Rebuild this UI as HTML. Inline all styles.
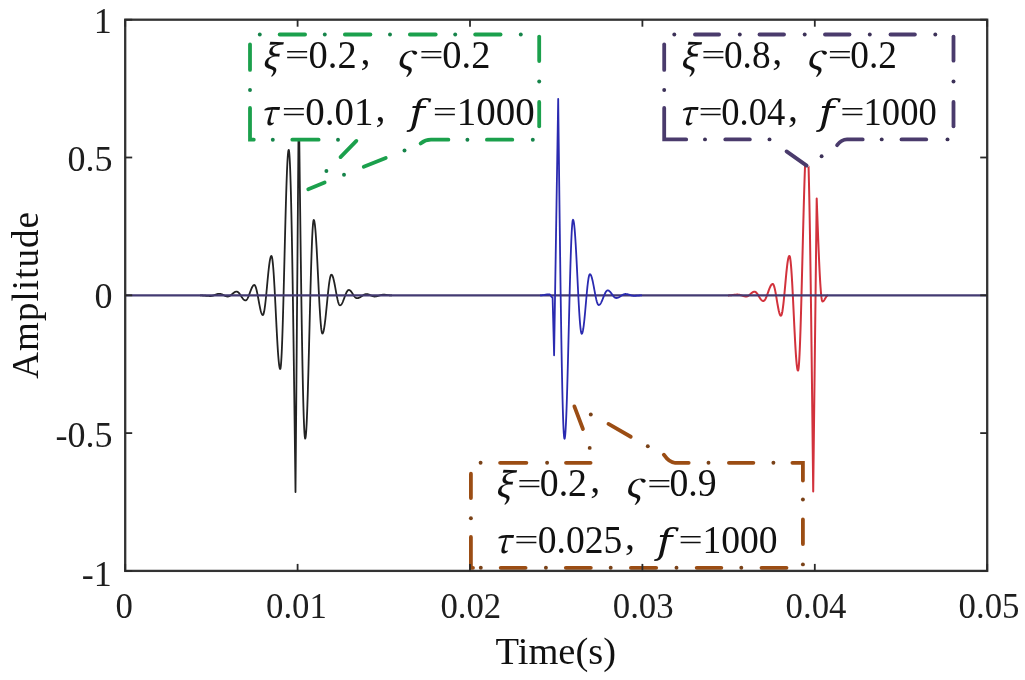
<!DOCTYPE html>
<html><head><meta charset="utf-8"><style>
html,body{margin:0;padding:0;background:#fff;width:1025px;height:680px;overflow:hidden}
svg{display:block}
</style></head><body>
<svg width="1025" height="680" viewBox="0 0 1025 680">
<rect width="1025" height="680" fill="#fff"/>
<g fill="none" stroke-linejoin="round">
<path d="M200.00,295.40 L200.25,295.40 L200.49,295.40 L200.74,295.41 L200.99,295.41 L201.23,295.42 L201.48,295.43 L201.73,295.44 L201.97,295.45 L202.22,295.46 L202.47,295.48 L202.71,295.49 L202.96,295.51 L203.20,295.53 L203.45,295.54 L203.70,295.56 L203.94,295.58 L204.19,295.60 L204.44,295.62 L204.68,295.65 L204.93,295.67 L205.18,295.69 L205.42,295.71 L205.67,295.73 L205.92,295.75 L206.16,295.78 L206.41,295.80 L206.66,295.82 L206.90,295.84 L207.15,295.86 L207.40,295.87 L207.64,295.89 L207.89,295.91 L208.13,295.92 L208.38,295.94 L208.63,295.95 L208.87,295.96 L209.12,295.97 L209.37,295.98 L209.61,295.99 L209.86,295.99 L210.11,296.00 L210.35,296.00 L210.60,296.00 L210.84,296.00 L211.09,295.98 L211.33,295.96 L211.58,295.93 L211.82,295.90 L212.07,295.85 L212.31,295.80 L212.56,295.74 L212.80,295.68 L213.04,295.61 L213.29,295.53 L213.53,295.45 L213.78,295.36 L214.02,295.28 L214.27,295.18 L214.51,295.09 L214.76,295.00 L215.00,294.90 L215.24,294.80 L215.49,294.71 L215.73,294.62 L215.98,294.52 L216.22,294.44 L216.47,294.35 L216.71,294.27 L216.96,294.19 L217.20,294.12 L217.44,294.06 L217.69,294.00 L217.93,293.95 L218.18,293.90 L218.42,293.87 L218.67,293.84 L218.91,293.82 L219.16,293.80 L219.40,293.80 L219.65,293.81 L219.89,293.82 L220.14,293.85 L220.39,293.89 L220.64,293.94 L220.88,294.00 L221.13,294.07 L221.38,294.15 L221.62,294.24 L221.87,294.34 L222.12,294.44 L222.36,294.55 L222.61,294.66 L222.86,294.78 L223.11,294.90 L223.35,295.03 L223.60,295.15 L223.85,295.27 L224.09,295.40 L224.34,295.52 L224.59,295.64 L224.84,295.75 L225.08,295.86 L225.33,295.96 L225.58,296.06 L225.82,296.15 L226.07,296.23 L226.32,296.30 L226.56,296.36 L226.81,296.41 L227.06,296.45 L227.31,296.48 L227.55,296.49 L227.80,296.50 L228.04,296.49 L228.29,296.46 L228.53,296.42 L228.78,296.35 L229.02,296.27 L229.27,296.17 L229.51,296.06 L229.76,295.93 L230.00,295.78 L230.24,295.62 L230.49,295.46 L230.73,295.28 L230.98,295.09 L231.22,294.89 L231.47,294.68 L231.71,294.48 L231.96,294.26 L232.20,294.05 L232.44,293.84 L232.69,293.62 L232.93,293.42 L233.18,293.21 L233.42,293.01 L233.67,292.83 L233.91,292.64 L234.16,292.48 L234.40,292.32 L234.64,292.17 L234.89,292.04 L235.13,291.93 L235.38,291.83 L235.62,291.75 L235.87,291.68 L236.11,291.64 L236.36,291.61 L236.60,291.60 L236.85,291.62 L237.09,291.67 L237.34,291.75 L237.59,291.87 L237.84,292.01 L238.08,292.19 L238.33,292.40 L238.58,292.63 L238.82,292.89 L239.07,293.17 L239.32,293.48 L239.57,293.80 L239.81,294.14 L240.06,294.50 L240.31,294.86 L240.56,295.24 L240.80,295.62 L241.05,296.00 L241.30,296.38 L241.54,296.76 L241.79,297.14 L242.04,297.50 L242.29,297.86 L242.53,298.20 L242.78,298.52 L243.03,298.83 L243.28,299.11 L243.52,299.37 L243.77,299.60 L244.02,299.81 L244.26,299.99 L244.51,300.13 L244.76,300.25 L245.01,300.33 L245.25,300.38 L245.50,300.40 L245.74,300.37 L245.99,300.28 L246.23,300.14 L246.48,299.94 L246.72,299.68 L246.97,299.37 L247.21,299.01 L247.46,298.60 L247.70,298.14 L247.94,297.65 L248.19,297.12 L248.43,296.55 L248.68,295.95 L248.92,295.33 L249.17,294.69 L249.41,294.04 L249.66,293.37 L249.90,292.70 L250.14,292.03 L250.39,291.36 L250.63,290.71 L250.88,290.07 L251.12,289.45 L251.37,288.85 L251.61,288.28 L251.86,287.75 L252.10,287.26 L252.34,286.80 L252.59,286.39 L252.83,286.03 L253.08,285.72 L253.32,285.46 L253.57,285.26 L253.81,285.12 L254.06,285.03 L254.30,285.00 L254.55,285.06 L254.80,285.26 L255.05,285.57 L255.30,286.01 L255.55,286.57 L255.80,287.25 L256.05,288.03 L256.30,288.91 L256.55,289.89 L256.80,290.96 L257.05,292.10 L257.30,293.31 L257.55,294.58 L257.80,295.90 L258.05,297.24 L258.30,298.62 L258.55,300.00 L258.80,301.38 L259.05,302.76 L259.30,304.10 L259.55,305.42 L259.80,306.69 L260.05,307.90 L260.30,309.04 L260.55,310.11 L260.80,311.09 L261.05,311.97 L261.30,312.75 L261.55,313.43 L261.80,313.99 L262.05,314.43 L262.30,314.74 L262.55,314.94 L262.80,315.00 L263.05,314.88 L263.29,314.53 L263.54,313.94 L263.78,313.12 L264.03,312.08 L264.27,310.82 L264.52,309.37 L264.77,307.72 L265.01,305.89 L265.26,303.89 L265.50,301.75 L265.75,299.48 L265.99,297.09 L266.24,294.62 L266.49,292.06 L266.73,289.46 L266.98,286.82 L267.22,284.18 L267.47,281.54 L267.71,278.94 L267.96,276.38 L268.21,273.91 L268.45,271.52 L268.70,269.25 L268.94,267.11 L269.19,265.11 L269.43,263.28 L269.68,261.63 L269.93,260.18 L270.17,258.92 L270.42,257.88 L270.66,257.06 L270.91,256.47 L271.15,256.12 L271.40,256.00 L271.64,256.21 L271.89,256.86 L272.13,257.93 L272.38,259.41 L272.62,261.29 L272.87,263.57 L273.11,266.22 L273.36,269.22 L273.60,272.55 L273.84,276.18 L274.09,280.09 L274.33,284.25 L274.58,288.62 L274.82,293.18 L275.07,297.88 L275.31,302.69 L275.56,307.58 L275.80,312.50 L276.04,317.42 L276.29,322.31 L276.53,327.12 L276.78,331.82 L277.02,336.38 L277.27,340.75 L277.51,344.91 L277.76,348.82 L278.00,352.45 L278.24,355.78 L278.49,358.78 L278.73,361.43 L278.98,363.71 L279.22,365.59 L279.47,367.07 L279.71,368.14 L279.96,368.79 L280.20,369.00 L280.45,368.53 L280.70,367.13 L280.95,364.82 L281.20,361.60 L281.45,357.52 L281.70,352.59 L281.95,346.87 L282.20,340.41 L282.45,333.25 L282.70,325.47 L282.95,317.12 L283.20,308.28 L283.45,299.02 L283.70,289.43 L283.95,279.58 L284.20,269.56 L284.45,259.45 L284.70,249.34 L284.95,239.32 L285.20,229.47 L285.45,219.88 L285.70,210.62 L285.95,201.78 L286.20,193.43 L286.45,185.65 L286.70,178.49 L286.95,172.03 L287.20,166.31 L287.45,161.38 L287.70,157.30 L287.95,154.08 L288.20,151.77 L288.45,150.37 L288.70,149.90 L288.94,150.44 L289.19,152.05 L289.43,154.73 L289.67,158.48 L289.91,163.27 L290.16,169.10 L290.40,175.94 L290.64,183.78 L290.89,192.59 L291.13,202.34 L291.37,213.00 L291.61,224.54 L291.86,236.92 L292.10,250.10 L292.34,264.04 L292.59,278.70 L292.83,294.04 L293.07,309.99 L293.31,326.52 L293.56,343.57 L293.80,361.08 L294.04,379.01 L294.29,397.29 L294.53,415.88 L294.77,434.70 L295.01,453.70 L295.26,472.82 L295.50,492.00 L295.74,463.93 L295.97,435.86 L296.21,407.79 L296.44,379.71 L296.68,351.64 L296.91,323.57 L297.15,295.50 L297.39,267.43 L297.62,239.36 L297.86,211.29 L298.09,183.21 L298.33,155.14 L298.56,127.07 L298.80,99.00 L299.05,119.50 L299.29,139.93 L299.54,160.21 L299.78,180.27 L300.03,200.03 L300.28,219.42 L300.52,238.38 L300.77,256.82 L301.02,274.69 L301.26,291.91 L301.51,308.44 L301.75,324.20 L302.00,339.13 L302.25,353.19 L302.49,366.33 L302.74,378.49 L302.98,389.62 L303.23,399.70 L303.48,408.68 L303.72,416.53 L303.97,423.22 L304.22,428.73 L304.46,433.04 L304.71,436.12 L304.95,437.98 L305.20,438.60 L305.44,438.16 L305.69,436.84 L305.93,434.66 L306.18,431.63 L306.42,427.78 L306.67,423.13 L306.91,417.73 L307.15,411.61 L307.40,404.83 L307.64,397.45 L307.89,389.51 L308.13,381.09 L308.38,372.26 L308.62,363.08 L308.86,353.62 L309.11,343.97 L309.35,334.20 L309.60,324.40 L309.84,314.63 L310.09,304.98 L310.33,295.52 L310.57,286.34 L310.82,277.51 L311.06,269.09 L311.31,261.15 L311.55,253.77 L311.80,246.99 L312.04,240.87 L312.28,235.47 L312.53,230.82 L312.77,226.97 L313.02,223.94 L313.26,221.76 L313.51,220.44 L313.75,220.00 L314.00,220.23 L314.24,220.91 L314.49,222.05 L314.74,223.62 L314.99,225.62 L315.23,228.03 L315.48,230.84 L315.73,234.01 L315.97,237.53 L316.22,241.37 L316.47,245.49 L316.72,249.86 L316.96,254.45 L317.21,259.21 L317.46,264.12 L317.70,269.13 L317.95,274.20 L318.20,279.30 L318.45,284.37 L318.69,289.38 L318.94,294.29 L319.19,299.05 L319.43,303.64 L319.68,308.01 L319.93,312.13 L320.18,315.97 L320.42,319.49 L320.67,322.66 L320.92,325.47 L321.16,327.88 L321.41,329.88 L321.66,331.45 L321.91,332.59 L322.15,333.27 L322.40,333.50 L322.65,333.39 L322.90,333.05 L323.15,332.50 L323.40,331.73 L323.65,330.75 L323.90,329.56 L324.15,328.18 L324.40,326.62 L324.65,324.89 L324.90,323.00 L325.15,320.96 L325.40,318.80 L325.65,316.52 L325.90,314.16 L326.15,311.71 L326.40,309.21 L326.65,306.66 L326.90,304.10 L327.15,301.54 L327.40,298.99 L327.65,296.49 L327.90,294.04 L328.15,291.68 L328.40,289.40 L328.65,287.24 L328.90,285.20 L329.15,283.31 L329.40,281.58 L329.65,280.02 L329.90,278.64 L330.15,277.45 L330.40,276.47 L330.65,275.70 L330.90,275.15 L331.15,274.81 L331.40,274.70 L331.65,274.76 L331.89,274.95 L332.14,275.25 L332.38,275.68 L332.63,276.22 L332.87,276.87 L333.12,277.62 L333.37,278.48 L333.61,279.43 L333.86,280.46 L334.10,281.57 L334.35,282.75 L334.59,283.99 L334.84,285.27 L335.09,286.60 L335.33,287.95 L335.58,289.31 L335.82,290.69 L336.07,292.05 L336.31,293.40 L336.56,294.73 L336.81,296.01 L337.05,297.25 L337.30,298.43 L337.54,299.54 L337.79,300.57 L338.03,301.52 L338.28,302.38 L338.53,303.13 L338.77,303.78 L339.02,304.32 L339.26,304.75 L339.51,305.05 L339.75,305.24 L340.00,305.30 L340.24,305.27 L340.49,305.18 L340.73,305.04 L340.98,304.84 L341.22,304.58 L341.47,304.28 L341.71,303.92 L341.96,303.51 L342.20,303.06 L342.44,302.57 L342.69,302.04 L342.93,301.48 L343.18,300.88 L343.42,300.27 L343.67,299.63 L343.91,298.98 L344.16,298.32 L344.40,297.65 L344.64,296.98 L344.89,296.32 L345.13,295.67 L345.38,295.03 L345.62,294.42 L345.87,293.82 L346.11,293.26 L346.36,292.73 L346.60,292.24 L346.84,291.79 L347.09,291.38 L347.33,291.02 L347.58,290.72 L347.82,290.46 L348.07,290.26 L348.31,290.12 L348.56,290.03 L348.80,290.00 L349.05,290.02 L349.30,290.07 L349.55,290.17 L349.79,290.29 L350.04,290.46 L350.29,290.65 L350.54,290.88 L350.79,291.13 L351.04,291.42 L351.28,291.72 L351.53,292.05 L351.78,292.40 L352.03,292.76 L352.28,293.13 L352.53,293.52 L352.78,293.90 L353.02,294.30 L353.27,294.68 L353.52,295.07 L353.77,295.44 L354.02,295.80 L354.27,296.15 L354.52,296.48 L354.76,296.78 L355.01,297.07 L355.26,297.32 L355.51,297.55 L355.76,297.74 L356.01,297.91 L356.25,298.03 L356.50,298.13 L356.75,298.18 L357.00,298.20 L357.25,298.19 L357.50,298.17 L357.75,298.14 L358.00,298.09 L358.25,298.03 L358.50,297.95 L358.75,297.87 L359.00,297.77 L359.25,297.66 L359.50,297.54 L359.75,297.41 L360.00,297.27 L360.25,297.13 L360.50,296.97 L360.75,296.82 L361.00,296.65 L361.25,296.49 L361.50,296.32 L361.75,296.15 L362.00,295.98 L362.25,295.81 L362.50,295.65 L362.75,295.48 L363.00,295.33 L363.25,295.17 L363.50,295.03 L363.75,294.89 L364.00,294.76 L364.25,294.64 L364.50,294.53 L364.75,294.43 L365.00,294.35 L365.25,294.27 L365.50,294.21 L365.75,294.16 L366.00,294.13 L366.25,294.11 L366.50,294.10 L366.75,294.11 L367.00,294.12 L367.25,294.15 L367.49,294.19 L367.74,294.23 L367.99,294.29 L368.24,294.36 L368.49,294.43 L368.74,294.51 L368.98,294.60 L369.23,294.70 L369.48,294.80 L369.73,294.91 L369.98,295.02 L370.23,295.13 L370.48,295.24 L370.72,295.36 L370.97,295.47 L371.22,295.58 L371.47,295.69 L371.72,295.80 L371.97,295.90 L372.22,296.00 L372.46,296.09 L372.71,296.17 L372.96,296.24 L373.21,296.31 L373.46,296.37 L373.71,296.41 L373.95,296.45 L374.20,296.48 L374.45,296.49 L374.70,296.50 L374.94,296.50 L375.19,296.49 L375.43,296.47 L375.68,296.45 L375.92,296.42 L376.17,296.38 L376.41,296.34 L376.66,296.29 L376.90,296.24 L377.14,296.18 L377.39,296.12 L377.63,296.05 L377.88,295.98 L378.12,295.91 L378.37,295.83 L378.61,295.76 L378.86,295.68 L379.10,295.60 L379.34,295.52 L379.59,295.44 L379.83,295.37 L380.08,295.29 L380.32,295.22 L380.57,295.15 L380.81,295.08 L381.06,295.02 L381.30,294.96 L381.54,294.91 L381.79,294.86 L382.03,294.82 L382.28,294.78 L382.52,294.75 L382.77,294.73 L383.01,294.71 L383.26,294.70 L383.50,294.70 L383.75,294.70 L384.00,294.71 L384.25,294.71 L384.50,294.72 L384.75,294.74 L385.00,294.75 L385.25,294.77 L385.50,294.79 L385.75,294.81 L386.00,294.84 L386.25,294.87 L386.50,294.89 L386.75,294.92 L387.00,294.95 L387.25,294.99 L387.50,295.02 L387.75,295.05 L388.00,295.08 L388.25,295.11 L388.50,295.15 L388.75,295.18 L389.00,295.21 L389.25,295.23 L389.50,295.26 L389.75,295.29 L390.00,295.31 L390.25,295.33 L390.50,295.35 L390.75,295.36 L391.00,295.38 L391.25,295.39 L391.50,295.39 L391.75,295.40 L392.00,295.40" stroke="#222" stroke-width="1.8"/>
<path d="M728.00,295.40 L728.25,295.40 L728.49,295.39 L728.74,295.39 L728.98,295.38 L729.23,295.37 L729.48,295.35 L729.72,295.34 L729.97,295.32 L730.22,295.30 L730.46,295.28 L730.71,295.25 L730.95,295.23 L731.20,295.20 L731.45,295.17 L731.69,295.14 L731.94,295.11 L732.18,295.08 L732.43,295.05 L732.68,295.02 L732.92,294.98 L733.17,294.95 L733.42,294.92 L733.66,294.89 L733.91,294.86 L734.15,294.83 L734.40,294.80 L734.65,294.77 L734.89,294.75 L735.14,294.72 L735.38,294.70 L735.63,294.68 L735.88,294.66 L736.12,294.65 L736.37,294.63 L736.62,294.62 L736.86,294.61 L737.11,294.61 L737.35,294.60 L737.60,294.60 L737.85,294.60 L738.10,294.62 L738.35,294.63 L738.59,294.66 L738.84,294.69 L739.09,294.73 L739.34,294.78 L739.59,294.83 L739.84,294.89 L740.09,294.96 L740.33,295.03 L740.58,295.10 L740.83,295.18 L741.08,295.26 L741.33,295.34 L741.58,295.42 L741.83,295.51 L742.07,295.59 L742.32,295.68 L742.57,295.76 L742.82,295.84 L743.07,295.92 L743.32,296.00 L743.57,296.07 L743.81,296.14 L744.06,296.21 L744.31,296.27 L744.56,296.32 L744.81,296.37 L745.06,296.41 L745.31,296.44 L745.55,296.47 L745.80,296.48 L746.05,296.50 L746.30,296.50 L746.55,296.49 L746.80,296.46 L747.05,296.40 L747.29,296.33 L747.54,296.23 L747.79,296.12 L748.04,295.99 L748.29,295.84 L748.54,295.67 L748.78,295.49 L749.03,295.30 L749.28,295.10 L749.53,294.88 L749.78,294.67 L750.03,294.44 L750.28,294.21 L750.52,293.99 L750.77,293.76 L751.02,293.53 L751.27,293.32 L751.52,293.10 L751.77,292.90 L752.02,292.71 L752.26,292.53 L752.51,292.36 L752.76,292.21 L753.01,292.08 L753.26,291.97 L753.51,291.87 L753.75,291.80 L754.00,291.74 L754.25,291.71 L754.50,291.70 L754.74,291.72 L754.99,291.77 L755.23,291.86 L755.48,291.98 L755.72,292.14 L755.97,292.32 L756.21,292.54 L756.46,292.79 L756.70,293.06 L756.94,293.36 L757.19,293.68 L757.43,294.02 L757.68,294.38 L757.92,294.76 L758.17,295.15 L758.41,295.54 L758.66,295.94 L758.90,296.35 L759.14,296.76 L759.39,297.16 L759.63,297.55 L759.88,297.94 L760.12,298.32 L760.37,298.68 L760.61,299.02 L760.86,299.34 L761.10,299.64 L761.34,299.91 L761.59,300.16 L761.83,300.38 L762.08,300.56 L762.32,300.72 L762.57,300.84 L762.81,300.93 L763.06,300.98 L763.30,301.00 L763.55,300.97 L763.79,300.88 L764.04,300.74 L764.29,300.54 L764.54,300.28 L764.78,299.98 L765.03,299.62 L765.28,299.21 L765.53,298.75 L765.77,298.26 L766.02,297.72 L766.27,297.15 L766.52,296.55 L766.76,295.91 L767.01,295.26 L767.26,294.59 L767.51,293.90 L767.75,293.20 L768.00,292.50 L768.25,291.80 L768.49,291.10 L768.74,290.41 L768.99,289.74 L769.24,289.09 L769.48,288.45 L769.73,287.85 L769.98,287.28 L770.23,286.74 L770.47,286.25 L770.72,285.79 L770.97,285.38 L771.22,285.02 L771.46,284.72 L771.71,284.46 L771.96,284.26 L772.21,284.12 L772.45,284.03 L772.70,284.00 L772.95,284.07 L773.20,284.29 L773.45,284.64 L773.69,285.14 L773.94,285.76 L774.19,286.52 L774.44,287.39 L774.69,288.38 L774.94,289.47 L775.18,290.66 L775.43,291.93 L775.68,293.27 L775.93,294.67 L776.18,296.11 L776.43,297.59 L776.68,299.10 L776.92,300.60 L777.17,302.11 L777.42,303.59 L777.67,305.03 L777.92,306.43 L778.17,307.77 L778.42,309.04 L778.66,310.23 L778.91,311.32 L779.16,312.31 L779.41,313.18 L779.66,313.94 L779.91,314.56 L780.15,315.06 L780.40,315.41 L780.65,315.63 L780.90,315.70 L781.15,315.57 L781.40,315.19 L781.65,314.56 L781.90,313.68 L782.15,312.57 L782.40,311.22 L782.65,309.66 L782.90,307.90 L783.15,305.94 L783.40,303.82 L783.65,301.54 L783.90,299.13 L784.15,296.60 L784.40,293.98 L784.65,291.29 L784.90,288.56 L785.15,285.80 L785.40,283.04 L785.65,280.31 L785.90,277.62 L786.15,275.00 L786.40,272.47 L786.65,270.06 L786.90,267.78 L787.15,265.66 L787.40,263.70 L787.65,261.94 L787.90,260.38 L788.15,259.03 L788.40,257.92 L788.65,257.04 L788.90,256.41 L789.15,256.03 L789.40,255.90 L789.65,256.13 L789.89,256.82 L790.14,257.97 L790.38,259.56 L790.63,261.58 L790.87,264.02 L791.12,266.85 L791.37,270.06 L791.61,273.62 L791.86,277.49 L792.10,281.66 L792.35,286.07 L792.59,290.71 L792.84,295.53 L793.09,300.49 L793.33,305.55 L793.58,310.68 L793.82,315.82 L794.07,320.95 L794.31,326.01 L794.56,330.97 L794.81,335.79 L795.05,340.43 L795.30,344.84 L795.54,349.01 L795.79,352.88 L796.03,356.44 L796.28,359.65 L796.53,362.48 L796.77,364.92 L797.02,366.94 L797.26,368.53 L797.51,369.68 L797.75,370.37 L798.00,370.60 L798.25,370.16 L798.50,368.85 L798.75,366.67 L799.00,363.65 L799.25,359.80 L799.50,355.15 L799.75,349.75 L800.00,343.62 L800.25,336.83 L800.50,329.41 L800.75,321.43 L801.00,312.95 L801.25,304.03 L801.50,294.73 L801.75,285.14 L802.00,275.32 L802.25,265.35 L802.50,255.30 L802.75,245.25 L803.00,235.28 L803.25,225.46 L803.50,215.87 L803.75,206.57 L804.00,197.65 L804.25,189.17 L804.50,181.19 L804.75,173.77 L805.00,166.98 L805.25,160.85 L805.50,155.45 L805.75,150.80 L806.00,146.95 L806.25,143.93 L806.50,141.75 L806.75,140.44 L807.00,140.00 L807.25,140.69 L807.50,142.77 L807.74,146.23 L807.99,151.04 L808.24,157.20 L808.49,164.68 L808.74,173.45 L808.98,183.48 L809.23,194.72 L809.48,207.13 L809.73,220.66 L809.98,235.27 L810.22,250.88 L810.47,267.45 L810.72,284.89 L810.97,303.16 L811.22,322.16 L811.46,341.84 L811.71,362.10 L811.96,382.88 L812.21,404.09 L812.46,425.64 L812.70,447.45 L812.95,469.43 L813.20,491.50 L813.45,470.58 L813.70,449.66 L813.95,428.74 L814.20,407.81 L814.45,386.89 L814.70,365.97 L814.95,345.05 L815.20,324.13 L815.45,303.21 L815.70,282.29 L815.95,261.36 L816.20,240.44 L816.45,219.52 L816.70,198.60 L816.94,205.32 L817.18,212.02 L817.43,218.66 L817.67,225.21 L817.91,231.64 L818.15,237.94 L818.39,244.07 L818.63,250.00 L818.88,255.71 L819.12,261.18 L819.36,266.38 L819.60,271.29 L819.84,275.89 L820.08,280.16 L820.33,284.08 L820.57,287.63 L820.81,290.80 L821.05,293.57 L821.29,295.94 L821.53,297.90 L821.77,299.42 L822.02,300.52 L822.26,301.18 L822.50,301.40 L822.75,301.37 L823.00,301.28 L823.25,301.13 L823.50,300.92 L823.75,300.67 L824.00,300.36 L824.25,300.02 L824.50,299.65 L824.75,299.25 L825.00,298.83 L825.25,298.40 L825.50,297.97 L825.75,297.55 L826.00,297.15 L826.25,296.78 L826.50,296.44 L826.75,296.13 L827.00,295.88 L827.25,295.67 L827.50,295.52 L827.75,295.43 L828.00,295.40" stroke="#d2323c" stroke-width="2"/>
<path d="M125.2,295.4 H987.2" stroke="#433a72" stroke-width="2.2"/>
<path d="M540.00,295.40 L540.24,295.40 L540.49,295.39 L540.73,295.38 L540.98,295.37 L541.22,295.35 L541.47,295.33 L541.71,295.31 L541.96,295.28 L542.20,295.25 L542.45,295.22 L542.69,295.19 L542.94,295.15 L543.18,295.11 L543.43,295.07 L543.67,295.03 L543.92,294.99 L544.16,294.94 L544.41,294.90 L544.65,294.85 L544.89,294.80 L545.14,294.76 L545.38,294.71 L545.63,294.67 L545.87,294.63 L546.12,294.59 L546.36,294.55 L546.61,294.51 L546.85,294.48 L547.10,294.45 L547.34,294.42 L547.59,294.39 L547.83,294.37 L548.08,294.35 L548.32,294.33 L548.57,294.32 L548.81,294.31 L549.06,294.30 L549.30,294.30 L549.54,294.34 L549.77,294.46 L550.01,294.65 L550.24,294.90 L550.48,295.21 L550.71,295.54 L550.95,295.90 L551.19,296.26 L551.42,296.59 L551.66,296.90 L551.89,297.15 L552.13,297.34 L552.36,297.46 L552.60,297.50 L552.85,307.13 L553.10,316.77 L553.35,326.40 L553.60,336.03 L553.85,345.67 L554.10,355.30 L554.34,340.21 L554.58,325.12 L554.82,310.04 L555.06,294.95 L555.31,279.86 L555.55,264.77 L555.79,249.68 L556.03,234.59 L556.27,219.51 L556.51,204.42 L556.75,189.33 L556.99,174.24 L557.24,159.15 L557.48,144.06 L557.72,128.98 L557.96,113.89 L558.20,98.80 L558.44,119.33 L558.68,139.78 L558.93,160.08 L559.17,180.16 L559.41,199.94 L559.65,219.35 L559.90,238.32 L560.14,256.78 L560.38,274.67 L560.62,291.91 L560.87,308.45 L561.11,324.23 L561.35,339.18 L561.59,353.26 L561.83,366.40 L562.08,378.57 L562.32,389.72 L562.56,399.81 L562.80,408.80 L563.05,416.66 L563.29,423.36 L563.53,428.87 L563.77,433.18 L564.02,436.27 L564.26,438.13 L564.50,438.75 L564.75,438.28 L565.00,436.89 L565.25,434.57 L565.50,431.36 L565.75,427.27 L566.00,422.35 L566.25,416.64 L566.50,410.18 L566.75,403.03 L567.00,395.25 L567.25,386.91 L567.50,378.07 L567.75,368.82 L568.00,359.23 L568.25,349.39 L568.50,339.38 L568.75,329.28 L569.00,319.17 L569.25,309.16 L569.50,299.32 L569.75,289.73 L570.00,280.48 L570.25,271.64 L570.50,263.30 L570.75,255.52 L571.00,248.37 L571.25,241.91 L571.50,236.20 L571.75,231.28 L572.00,227.19 L572.25,223.98 L572.50,221.66 L572.75,220.27 L573.00,219.80 L573.25,220.03 L573.50,220.72 L573.75,221.85 L574.00,223.43 L574.25,225.44 L574.50,227.86 L574.75,230.68 L575.00,233.87 L575.25,237.40 L575.50,241.25 L575.75,245.39 L576.00,249.78 L576.25,254.38 L576.50,259.17 L576.75,264.10 L577.00,269.13 L577.25,274.22 L577.50,279.33 L577.75,284.42 L578.00,289.45 L578.25,294.38 L578.50,299.17 L578.75,303.77 L579.00,308.16 L579.25,312.30 L579.50,316.15 L579.75,319.68 L580.00,322.87 L580.25,325.69 L580.50,328.11 L580.75,330.12 L581.00,331.70 L581.25,332.83 L581.50,333.52 L581.75,333.75 L582.00,333.62 L582.24,333.21 L582.49,332.54 L582.74,331.62 L582.98,330.44 L583.23,329.02 L583.48,327.38 L583.73,325.52 L583.97,323.47 L584.22,321.25 L584.47,318.86 L584.71,316.34 L584.96,313.71 L585.21,310.99 L585.45,308.21 L585.70,305.39 L585.95,302.56 L586.20,299.74 L586.44,296.96 L586.69,294.24 L586.94,291.61 L587.18,289.09 L587.43,286.70 L587.68,284.48 L587.92,282.43 L588.17,280.57 L588.42,278.93 L588.67,277.51 L588.91,276.33 L589.16,275.41 L589.41,274.74 L589.65,274.33 L589.90,274.20 L590.15,274.26 L590.39,274.43 L590.64,274.72 L590.88,275.13 L591.13,275.64 L591.38,276.26 L591.62,276.99 L591.87,277.80 L592.11,278.71 L592.36,279.70 L592.60,280.77 L592.85,281.90 L593.10,283.09 L593.34,284.33 L593.59,285.61 L593.83,286.93 L594.08,288.26 L594.33,289.60 L594.57,290.94 L594.82,292.27 L595.06,293.59 L595.31,294.87 L595.55,296.11 L595.80,297.30 L596.05,298.43 L596.29,299.50 L596.54,300.49 L596.78,301.40 L597.03,302.21 L597.27,302.94 L597.52,303.56 L597.77,304.07 L598.01,304.48 L598.26,304.77 L598.50,304.94 L598.75,305.00 L599.00,304.97 L599.25,304.89 L599.50,304.75 L599.74,304.56 L599.99,304.32 L600.24,304.02 L600.49,303.68 L600.74,303.29 L600.99,302.86 L601.24,302.39 L601.48,301.89 L601.73,301.35 L601.98,300.79 L602.23,300.20 L602.48,299.59 L602.73,298.97 L602.98,298.34 L603.23,297.70 L603.47,297.06 L603.72,296.43 L603.97,295.81 L604.22,295.20 L604.47,294.61 L604.72,294.05 L604.97,293.51 L605.21,293.01 L605.46,292.54 L605.71,292.11 L605.96,291.72 L606.21,291.38 L606.46,291.08 L606.71,290.84 L606.95,290.65 L607.20,290.51 L607.45,290.43 L607.70,290.40 L607.94,290.42 L608.19,290.46 L608.43,290.54 L608.68,290.64 L608.92,290.78 L609.17,290.94 L609.41,291.13 L609.65,291.34 L609.90,291.57 L610.14,291.83 L610.39,292.11 L610.63,292.40 L610.88,292.71 L611.12,293.03 L611.36,293.35 L611.61,293.69 L611.85,294.03 L612.10,294.37 L612.34,294.71 L612.59,295.05 L612.83,295.37 L613.07,295.69 L613.32,296.00 L613.56,296.29 L613.81,296.57 L614.05,296.83 L614.30,297.06 L614.54,297.27 L614.78,297.46 L615.03,297.62 L615.27,297.76 L615.52,297.86 L615.76,297.94 L616.01,297.98 L616.25,298.00 L616.50,297.99 L616.75,297.97 L617.00,297.94 L617.25,297.89 L617.50,297.82 L617.75,297.75 L618.00,297.66 L618.25,297.56 L618.50,297.44 L618.75,297.32 L619.00,297.19 L619.25,297.05 L619.50,296.90 L619.75,296.75 L620.00,296.59 L620.25,296.42 L620.50,296.25 L620.75,296.08 L621.00,295.92 L621.25,295.75 L621.50,295.58 L621.75,295.41 L622.00,295.25 L622.25,295.10 L622.50,294.95 L622.75,294.81 L623.00,294.68 L623.25,294.56 L623.50,294.44 L623.75,294.34 L624.00,294.25 L624.25,294.18 L624.50,294.11 L624.75,294.06 L625.00,294.03 L625.25,294.01 L625.50,294.00 L625.75,294.00 L626.00,294.02 L626.25,294.03 L626.50,294.06 L626.75,294.09 L627.00,294.13 L627.25,294.18 L627.50,294.23 L627.75,294.29 L628.00,294.36 L628.25,294.43 L628.50,294.50 L628.75,294.57 L629.00,294.65 L629.25,294.73 L629.50,294.82 L629.75,294.90 L630.00,294.98 L630.25,295.07 L630.50,295.15 L630.75,295.23 L631.00,295.30 L631.25,295.37 L631.50,295.44 L631.75,295.51 L632.00,295.57 L632.25,295.62 L632.50,295.67 L632.75,295.71 L633.00,295.74 L633.25,295.77 L633.50,295.78 L633.75,295.80 L634.00,295.80 L634.25,295.80 L634.50,295.80 L634.75,295.79 L635.00,295.78 L635.25,295.78 L635.50,295.77 L635.75,295.75 L636.00,295.74 L636.25,295.73 L636.50,295.71 L636.75,295.69 L637.00,295.68 L637.25,295.66 L637.50,295.64 L637.75,295.62 L638.00,295.60 L638.25,295.58 L638.50,295.56 L638.75,295.54 L639.00,295.52 L639.25,295.51 L639.50,295.49 L639.75,295.47 L640.00,295.46 L640.25,295.45 L640.50,295.43 L640.75,295.42 L641.00,295.42 L641.25,295.41 L641.50,295.40 L641.75,295.40 L642.00,295.40" stroke="#2a2ab0" stroke-width="1.8"/>
</g>
<path d="M250.0,34.5 H539.2 V139.7 H428 L306.5,190 L358,139.7 H250.0 Z" fill="#fff"/>
<circle cx="259.8" cy="34.5" r="1.95" fill="#16844a"/>
<circle cx="324.8" cy="34.5" r="1.95" fill="#16844a"/>
<circle cx="390.0" cy="34.5" r="1.95" fill="#16844a"/>
<circle cx="455.2" cy="34.5" r="1.95" fill="#16844a"/>
<circle cx="520.8" cy="34.5" r="1.95" fill="#16844a"/>
<line x1="279.70" y1="34.50" x2="305.10" y2="34.50" stroke="#1ba04c" stroke-width="3.8" stroke-linecap="round"/>
<line x1="344.90" y1="34.50" x2="370.40" y2="34.50" stroke="#1ba04c" stroke-width="3.8" stroke-linecap="round"/>
<line x1="409.90" y1="34.50" x2="435.70" y2="34.50" stroke="#1ba04c" stroke-width="3.8" stroke-linecap="round"/>
<line x1="475.20" y1="34.50" x2="500.60" y2="34.50" stroke="#1ba04c" stroke-width="3.8" stroke-linecap="round"/>
<line x1="250.00" y1="44.50" x2="250.00" y2="69.90" stroke="#1ba04c" stroke-width="3.8" stroke-linecap="round"/>
<circle cx="250.0" cy="90" r="1.95" fill="#16844a"/>
<path d="M250.0,108 V139.7 H253.8" fill="none" stroke="#1ba04c" stroke-width="3.8" stroke-linecap="round"/>
<line x1="539.20" y1="36.60" x2="539.20" y2="61.00" stroke="#1ba04c" stroke-width="3.8" stroke-linecap="round"/>
<circle cx="539.2" cy="81.5" r="1.95" fill="#16844a"/>
<line x1="539.20" y1="101.90" x2="539.20" y2="126.30" stroke="#1ba04c" stroke-width="3.8" stroke-linecap="round"/>
<circle cx="272.8" cy="139.7" r="1.95" fill="#16844a"/>
<circle cx="338" cy="139.7" r="1.95" fill="#16844a"/>
<circle cx="467.4" cy="139.7" r="1.95" fill="#16844a"/>
<circle cx="532.8" cy="139.7" r="1.95" fill="#16844a"/>
<line x1="292.30" y1="139.70" x2="318.60" y2="139.70" stroke="#1ba04c" stroke-width="3.8" stroke-linecap="round"/>
<line x1="486.90" y1="139.70" x2="512.30" y2="139.70" stroke="#1ba04c" stroke-width="3.8" stroke-linecap="round"/>
<line x1="356.37" y1="140.95" x2="340.53" y2="157.05" stroke="#1ba04c" stroke-width="3.8" stroke-linecap="round"/>
<circle cx="326.4" cy="171" r="1.95" fill="#16844a"/>
<line x1="308.26" y1="189.28" x2="324.64" y2="182.52" stroke="#1ba04c" stroke-width="3.8" stroke-linecap="round"/>
<circle cx="344" cy="174.8" r="1.95" fill="#16844a"/>
<line x1="363.76" y1="166.79" x2="385.74" y2="157.91" stroke="#1ba04c" stroke-width="3.8" stroke-linecap="round"/>
<circle cx="404.5" cy="150.5" r="1.95" fill="#16844a"/>
<path d="M420.6,143.4 Q425.5,139.7 431,139.7 H448.4" fill="none" stroke="#1ba04c" stroke-width="3.8" stroke-linecap="round"/>
<path d="M664.2,34.5 H953.5 V139.4 H846 L808,167 L769.5,139.4 H664.2 Z" fill="#fff"/>
<circle cx="674.3" cy="34.5" r="1.95" fill="#3c3158"/>
<circle cx="739.8" cy="34.5" r="1.95" fill="#3c3158"/>
<circle cx="804.7" cy="34.5" r="1.95" fill="#3c3158"/>
<circle cx="869.8" cy="34.5" r="1.95" fill="#3c3158"/>
<circle cx="935.3" cy="34.5" r="1.95" fill="#3c3158"/>
<line x1="695.00" y1="34.50" x2="719.10" y2="34.50" stroke="#4a3b6c" stroke-width="3.8" stroke-linecap="round"/>
<line x1="759.50" y1="34.50" x2="784.00" y2="34.50" stroke="#4a3b6c" stroke-width="3.8" stroke-linecap="round"/>
<line x1="825.00" y1="34.50" x2="849.50" y2="34.50" stroke="#4a3b6c" stroke-width="3.8" stroke-linecap="round"/>
<line x1="890.50" y1="34.50" x2="914.90" y2="34.50" stroke="#4a3b6c" stroke-width="3.8" stroke-linecap="round"/>
<line x1="664.20" y1="44.50" x2="664.20" y2="69.90" stroke="#4a3b6c" stroke-width="3.8" stroke-linecap="round"/>
<circle cx="664.2" cy="90" r="1.95" fill="#3c3158"/>
<path d="M664.2,108 V139.4 H686.2" fill="none" stroke="#4a3b6c" stroke-width="3.8" stroke-linecap="round"/>
<line x1="953.50" y1="36.60" x2="953.50" y2="60.70" stroke="#4a3b6c" stroke-width="3.8" stroke-linecap="round"/>
<circle cx="953.5" cy="81.5" r="1.95" fill="#3c3158"/>
<line x1="953.50" y1="101.90" x2="953.50" y2="126.30" stroke="#4a3b6c" stroke-width="3.8" stroke-linecap="round"/>
<circle cx="705" cy="139.4" r="1.95" fill="#3c3158"/>
<circle cx="881.7" cy="139.4" r="1.95" fill="#3c3158"/>
<circle cx="947.5" cy="139.4" r="1.95" fill="#3c3158"/>
<line x1="725.30" y1="139.40" x2="749.80" y2="139.40" stroke="#4a3b6c" stroke-width="3.8" stroke-linecap="round"/>
<line x1="901.50" y1="139.40" x2="926.20" y2="139.40" stroke="#4a3b6c" stroke-width="3.8" stroke-linecap="round"/>
<circle cx="769.5" cy="139.4" r="1.95" fill="#3c3158"/>
<line x1="786.55" y1="151.40" x2="806.65" y2="165.60" stroke="#4a3b6c" stroke-width="3.8" stroke-linecap="round"/>
<circle cx="821.6" cy="156.2" r="1.95" fill="#3c3158"/>
<path d="M837.1,145.2 Q841.5,139.4 847,139.4 H862.7" fill="none" stroke="#4a3b6c" stroke-width="3.8" stroke-linecap="round"/>
<path d="M470.9,462.8 H595 L572.5,401.5 L682,462.8 H802.9 V567.8 H470.9 Z" fill="#fff"/>
<circle cx="480.6" cy="462.8" r="1.95" fill="#7a4218"/>
<circle cx="547.1" cy="462.8" r="1.95" fill="#7a4218"/>
<circle cx="708.5" cy="462.8" r="1.95" fill="#7a4218"/>
<circle cx="773.4" cy="462.8" r="1.95" fill="#7a4218"/>
<line x1="500.10" y1="462.80" x2="526.40" y2="462.80" stroke="#9b4d14" stroke-width="3.8" stroke-linecap="round"/>
<line x1="566.00" y1="462.80" x2="590.60" y2="462.80" stroke="#9b4d14" stroke-width="3.8" stroke-linecap="round"/>
<line x1="728.90" y1="462.80" x2="753.40" y2="462.80" stroke="#9b4d14" stroke-width="3.8" stroke-linecap="round"/>
<path d="M792.4,462.8 H802.9 V480.6" fill="none" stroke="#9b4d14" stroke-width="3.8" stroke-linecap="round"/>
<line x1="470.90" y1="473.70" x2="470.90" y2="498.10" stroke="#9b4d14" stroke-width="3.8" stroke-linecap="round"/>
<circle cx="470.9" cy="518.2" r="1.95" fill="#7a4218"/>
<path d="M470.9,537 V567.8 H473" fill="none" stroke="#9b4d14" stroke-width="3.8" stroke-linecap="round"/>
<circle cx="802.9" cy="499.5" r="1.95" fill="#7a4218"/>
<line x1="802.90" y1="519.50" x2="802.90" y2="544.00" stroke="#9b4d14" stroke-width="3.8" stroke-linecap="round"/>
<circle cx="802.9" cy="564.4" r="1.95" fill="#7a4218"/>
<circle cx="480.8" cy="567.8" r="1.95" fill="#7a4218"/>
<circle cx="545.9" cy="567.8" r="1.95" fill="#7a4218"/>
<circle cx="610.7" cy="567.8" r="1.95" fill="#7a4218"/>
<circle cx="676.5" cy="567.8" r="1.95" fill="#7a4218"/>
<circle cx="741.3" cy="567.8" r="1.95" fill="#7a4218"/>
<line x1="500.70" y1="567.80" x2="525.60" y2="567.80" stroke="#9b4d14" stroke-width="3.8" stroke-linecap="round"/>
<line x1="565.80" y1="567.80" x2="590.80" y2="567.80" stroke="#9b4d14" stroke-width="3.8" stroke-linecap="round"/>
<line x1="630.90" y1="567.80" x2="656.20" y2="567.80" stroke="#9b4d14" stroke-width="3.8" stroke-linecap="round"/>
<line x1="696.70" y1="567.80" x2="721.30" y2="567.80" stroke="#9b4d14" stroke-width="3.8" stroke-linecap="round"/>
<line x1="761.50" y1="567.80" x2="786.50" y2="567.80" stroke="#9b4d14" stroke-width="3.8" stroke-linecap="round"/>
<line x1="574.37" y1="406.38" x2="582.93" y2="429.02" stroke="#9b4d14" stroke-width="3.8" stroke-linecap="round"/>
<circle cx="589.7" cy="447.9" r="1.95" fill="#7a4218"/>
<circle cx="590.8" cy="414.5" r="1.95" fill="#7a4218"/>
<line x1="608.45" y1="423.95" x2="630.75" y2="436.75" stroke="#9b4d14" stroke-width="3.8" stroke-linecap="round"/>
<circle cx="647.8" cy="446.2" r="1.95" fill="#7a4218"/>
<path d="M663.8,454.7 Q669.5,462.8 675,462.8 H688.7" fill="none" stroke="#9b4d14" stroke-width="3.8" stroke-linecap="round"/>
<rect x="125.2" y="19.7" width="862.0" height="551.1999999999999" fill="none" stroke="#333" stroke-width="2.3"/>
<g stroke="#2a2a2a" stroke-width="1.8">
<line x1="125.20" y1="570.9" x2="125.20" y2="563.9" />
<line x1="125.20" y1="19.7" x2="125.20" y2="26.7" />
<line x1="297.60" y1="570.9" x2="297.60" y2="563.9" />
<line x1="297.60" y1="19.7" x2="297.60" y2="26.7" />
<line x1="470.00" y1="570.9" x2="470.00" y2="563.9" />
<line x1="470.00" y1="19.7" x2="470.00" y2="26.7" />
<line x1="642.40" y1="570.9" x2="642.40" y2="563.9" />
<line x1="642.40" y1="19.7" x2="642.40" y2="26.7" />
<line x1="814.80" y1="570.9" x2="814.80" y2="563.9" />
<line x1="814.80" y1="19.7" x2="814.80" y2="26.7" />
<line x1="987.20" y1="570.9" x2="987.20" y2="563.9" />
<line x1="987.20" y1="19.7" x2="987.20" y2="26.7" />
<line x1="125.2" y1="19.70" x2="132.2" y2="19.70" />
<line x1="987.2" y1="19.70" x2="980.2" y2="19.70" />
<line x1="125.2" y1="157.50" x2="132.2" y2="157.50" />
<line x1="987.2" y1="157.50" x2="980.2" y2="157.50" />
<line x1="125.2" y1="295.30" x2="132.2" y2="295.30" />
<line x1="987.2" y1="295.30" x2="980.2" y2="295.30" />
<line x1="125.2" y1="433.10" x2="132.2" y2="433.10" />
<line x1="987.2" y1="433.10" x2="980.2" y2="433.10" />
<line x1="125.2" y1="570.90" x2="132.2" y2="570.90" />
<line x1="987.2" y1="570.90" x2="980.2" y2="570.90" />
</g>
<g font-family="'Liberation Serif', 'Times New Roman', serif" font-size="36" fill="#1e1e1e">
<text transform="translate(124.30,618) scale(0.965,1)" text-anchor="middle">0</text>
<text transform="translate(296.40,618) scale(0.965,1)" text-anchor="middle">0.01</text>
<text transform="translate(470.80,618) scale(0.965,1)" text-anchor="middle">0.02</text>
<text transform="translate(643.20,618) scale(0.965,1)" text-anchor="middle">0.03</text>
<text transform="translate(816.00,618) scale(0.965,1)" text-anchor="middle">0.04</text>
<text transform="translate(989.00,618) scale(0.965,1)" text-anchor="middle">0.05</text>
<text x="111.8" y="32.70" text-anchor="end">1</text>
<text x="112.5" y="171.00" text-anchor="end">0.5</text>
<text x="112.5" y="308.30" text-anchor="end">0</text>
<text x="112.5" y="446.90" text-anchor="end">-0.5</text>
<text x="111.8" y="585.50" text-anchor="end">-1</text>
</g>
<text x="555.8" y="664.2" text-anchor="middle" font-family="'Liberation Serif', 'Times New Roman', serif" font-size="38.5" fill="#111">Time(s)</text>
<text transform="translate(38.4,294.8) rotate(-90)" text-anchor="middle" font-family="'Liberation Serif', 'Times New Roman', serif" font-size="37" letter-spacing="1.05" fill="#111">Amplitude</text>
<g fill="#111" font-family="'Liberation Serif', 'Times New Roman', serif">
<text transform="translate(261.69,68.70)" font-size="33.5" font-style="italic" font-family="'Noto Serif CJK SC', 'Liberation Serif', serif" font-weight="600">ξ</text>
<text transform="translate(284.95,65.00) scale(1.117,0.75)" font-size="38.5">=</text>
<text transform="translate(308.54,67.90) scale(1.0,1.035)" font-size="38.5">0.2</text>
<text transform="translate(360.48,63.60)" font-size="40">,</text>
<text transform="translate(395.96,68.50) scale(1.07,1.0)" font-size="34" font-style="italic" font-family="'Noto Serif CJK SC', 'Liberation Serif', serif" font-weight="600">ς</text>
<text transform="translate(419.15,65.00) scale(1.117,0.75)" font-size="38.5">=</text>
<text transform="translate(442.34,67.90) scale(1.0,1.035)" font-size="38.5">0.2</text>
<text transform="translate(260.61,125.20) scale(0.92,1.0)" font-size="34.2" font-style="italic" font-family="'Noto Serif CJK SC', 'Liberation Serif', serif" font-weight="600">τ</text>
<text transform="translate(281.75,122.00) scale(1.117,0.75)" font-size="38.5">=</text>
<text transform="translate(305.32,124.90) scale(1.013,1.035)" font-size="38.5">0.01</text>
<text transform="translate(375.48,120.60)" font-size="40">,</text>
<text transform="translate(409.35,125.40) scale(1.22,1.0)" font-size="34.8" font-style="italic" font-family="'DejaVu Serif', 'Liberation Serif', serif">f</text>
<text transform="translate(432.85,122.00) scale(1.117,0.75)" font-size="38.5">=</text>
<text transform="translate(456.77,124.90) scale(1.013,1.035)" font-size="38.5">1000</text>
<text transform="translate(679.99,68.70)" font-size="33.5" font-style="italic" font-family="'Noto Serif CJK SC', 'Liberation Serif', serif" font-weight="600">ξ</text>
<text transform="translate(701.35,65.00) scale(1.117,0.75)" font-size="38.5">=</text>
<text transform="translate(723.88,67.90) scale(0.97,1.035)" font-size="38.5">0.8</text>
<text transform="translate(772.28,63.60)" font-size="40">,</text>
<text transform="translate(805.76,68.50) scale(1.07,1.0)" font-size="34" font-style="italic" font-family="'Noto Serif CJK SC', 'Liberation Serif', serif" font-weight="600">ς</text>
<text transform="translate(827.75,65.00) scale(1.117,0.75)" font-size="38.5">=</text>
<text transform="translate(850.28,67.90) scale(0.97,1.035)" font-size="38.5">0.2</text>
<text transform="translate(678.91,125.20) scale(0.92,1.0)" font-size="34.2" font-style="italic" font-family="'Noto Serif CJK SC', 'Liberation Serif', serif" font-weight="600">τ</text>
<text transform="translate(698.55,122.00) scale(1.117,0.75)" font-size="38.5">=</text>
<text transform="translate(721.21,124.90) scale(0.95,1.035)" font-size="38.5">0.04</text>
<text transform="translate(787.98,120.60)" font-size="40">,</text>
<text transform="translate(818.65,125.40) scale(1.22,1.0)" font-size="34.8" font-style="italic" font-family="'DejaVu Serif', 'Liberation Serif', serif">f</text>
<text transform="translate(840.25,122.00) scale(1.117,0.75)" font-size="38.5">=</text>
<text transform="translate(863.58,124.90) scale(0.95,1.035)" font-size="38.5">1000</text>
<text transform="translate(494.99,497.20)" font-size="33.5" font-style="italic" font-family="'Noto Serif CJK SC', 'Liberation Serif', serif" font-weight="600">ξ</text>
<text transform="translate(517.15,493.50) scale(1.117,0.75)" font-size="38.5">=</text>
<text transform="translate(539.77,496.40) scale(0.98,1.035)" font-size="38.5">0.2</text>
<text transform="translate(590.18,492.10)" font-size="40">,</text>
<text transform="translate(624.56,497.00) scale(1.07,1.0)" font-size="34" font-style="italic" font-family="'Noto Serif CJK SC', 'Liberation Serif', serif" font-weight="600">ς</text>
<text transform="translate(647.15,493.50) scale(1.117,0.75)" font-size="38.5">=</text>
<text transform="translate(669.47,496.40) scale(0.98,1.035)" font-size="38.5">0.9</text>
<text transform="translate(494.51,553.40) scale(0.92,1.0)" font-size="34.2" font-style="italic" font-family="'Noto Serif CJK SC', 'Liberation Serif', serif" font-weight="600">τ</text>
<text transform="translate(514.35,550.20) scale(1.117,0.75)" font-size="38.5">=</text>
<text transform="translate(537.77,553.10) scale(0.976,1.035)" font-size="38.5">0.025</text>
<text transform="translate(625.08,548.80)" font-size="40">,</text>
<text transform="translate(656.75,553.60) scale(1.22,1.0)" font-size="34.8" font-style="italic" font-family="'DejaVu Serif', 'Liberation Serif', serif">f</text>
<text transform="translate(678.55,550.20) scale(1.117,0.75)" font-size="38.5">=</text>
<text transform="translate(702.39,553.10) scale(0.976,1.035)" font-size="38.5">1000</text>
</g>
</svg>
</body></html>
